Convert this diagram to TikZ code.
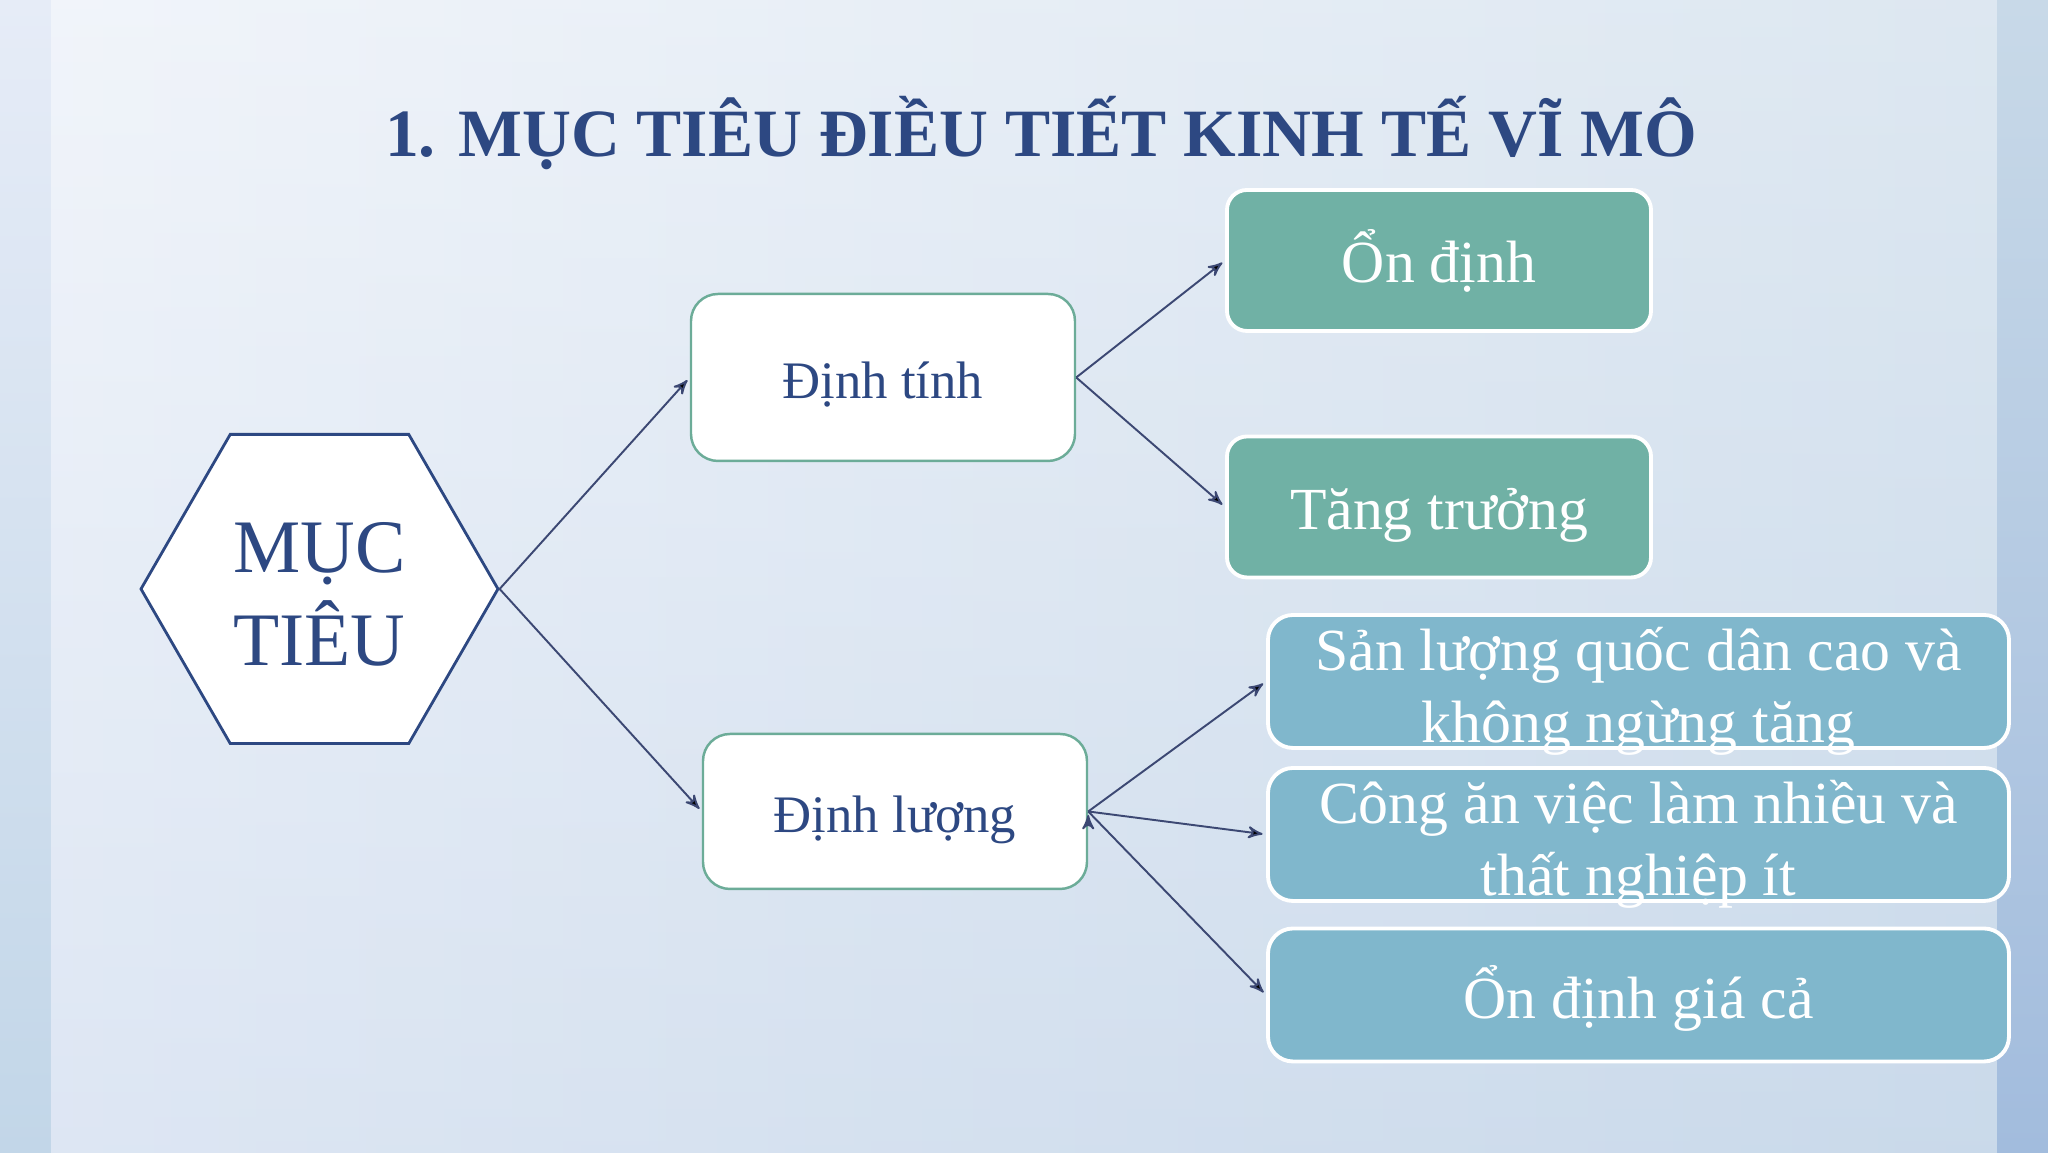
\documentclass[tikz,border=0pt]{standalone}
\usepackage{fontspec}
\setmainfont{Liberation Serif}
\usetikzlibrary{arrows,shapes.geometric}

\definecolor{titleblue}{RGB}{45,72,130}
\definecolor{arrowc}{RGB}{60,72,115}
\definecolor{tealfill}{RGB}{112,177,165}
\definecolor{tealline}{RGB}{108,172,152}
\definecolor{bluefill}{RGB}{128,183,204}
\definecolor{bgleft}{RGB}{236,241,249}
\definecolor{bgright}{RGB}{206,221,235}
\definecolor{bgshadow}{RGB}{190,208,232}
\definecolor{stripltop}{RGB}{230,236,247}
\definecolor{striplbot}{RGB}{194,214,232}
\definecolor{striprtop}{RGB}{200,217,232}
\definecolor{striprbot}{RGB}{162,188,221}

\begin{document}
\begin{tikzpicture}[->,>=stealth',shorten >=1pt,line width=0.55pt]
  \tikzstyle{hexnode}=[regular polygon,regular polygon sides=6,minimum size=3.57cm,
    inner sep=0pt,fill=white,draw=titleblue,line width=0.8pt,text=titleblue,
    align=center,text height=48.3pt,text depth=5pt,font=\fontsize{21.5}{26.2}\selectfont]
  \tikzstyle{softbox}=[rectangle,rounded corners=0.27cm,fill=white,draw=tealline,
    line width=0.7pt,text=titleblue,minimum width=3.84cm,text height=14.8pt,text depth=3pt,
    font=\fontsize{15}{18}\selectfont]
  \tikzstyle{tealbox}=[rectangle,rounded corners=0.2cm,fill=tealfill,draw=white,
    line width=1.1pt,text=white,minimum width=4.24cm,minimum height=1.41cm,
    text height=15.8pt,text depth=3pt,font=\fontsize{17}{20}\selectfont]
  \tikzstyle{bluebox}=[rectangle,rounded corners=0.25cm,fill=bluefill,draw=white,
    line width=1.1pt,text=white,minimum width=7.41cm,minimum height=1.33cm,inner sep=0pt,
    align=center,text height=36.1pt,text depth=1.5pt,font=\fontsize{17}{20.5}\selectfont]
  \tikzstyle{link}=[draw=arrowc]

  % background
  \useasboundingbox (0,0) rectangle (20.48,11.53);
  \shade[left color=bgleft,right color=bgright] (0,0) rectangle (20.48,11.53);
  \shade[top color=white,bottom color=bgshadow,opacity=0.3] (0,0) rectangle (20.48,11.53);
  \shade[top color=stripltop,bottom color=striplbot] (0,0) rectangle (0.51,11.53);
  \shade[top color=striprtop,bottom color=striprbot] (19.97,0) rectangle (20.48,11.53);

  \node[text=titleblue,font=\fontsize{19.25}{22}\selectfont\bfseries] (title) at (10.41,10.2)
    {1. MỤC TIÊU ĐIỀU TIẾT KINH TẾ VĨ MÔ};

  \node[hexnode] (M) at (3.195,5.64) {MỤC\\TIÊU};
  \node[softbox,minimum height=1.67cm] (DT) at (8.83,7.755) {Định tính};
  \node[softbox,minimum height=1.55cm] (DL) at (8.95,3.415) {Định lượng};

  \node[tealbox] (OD) at (14.39,8.925) {Ổn định};
  \node[tealbox] (TT) [below of=OD,node distance=2.465cm] {Tăng trưởng};

  \node[bluebox] (SL) at (16.385,4.715) {Sản lượng quốc dân cao và\\không ngừng tăng};
  \node[bluebox] (CA) [below of=SL,node distance=1.53cm] {Công ăn việc làm nhiều và\\thất nghiệp ít};
  \node[bluebox,text height=16.6pt,text depth=3pt] (GC) [below of=CA,node distance=1.605cm]
    {Ổn định giá cả};

  \path[link] (M.east) edge (DT.west)
              (M.east) edge (DL.west)
              (DT.east) edge (OD.west)
              (DT.east) edge (TT.west)
              (DL.east) edge (SL.west)
              (DL.east) edge (CA.west)
              (DL.east) edge (GC.west);
\end{tikzpicture}
\end{document}
